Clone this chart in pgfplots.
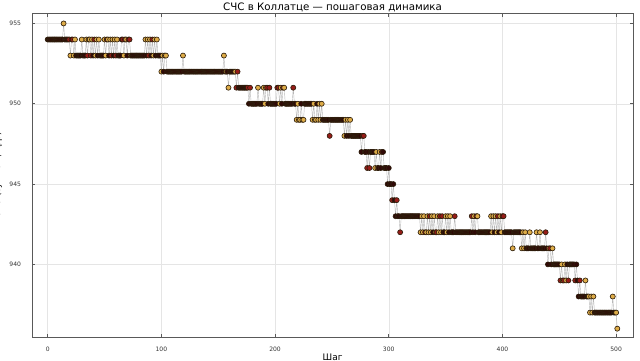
\documentclass[border=0pt]{standalone}
\usepackage{fontspec}
\setmainfont{DejaVu Sans}
\usepackage{pgfplots}
\usepackage{pgfplotstable}
\pgfplotsset{compat=1.18}
\definecolor{edgec}{RGB}{45,30,12}
\pgfplotsset{colormap={fire}{rgb255=(48,8,6) rgb255=(150,28,24) rgb255=(222,172,72)}}
\pgfplotstableread[row sep=\\]{
x y c\\
0 954 0\\ 1 954 0\\ 2 954 0\\ 3 954 0\\ 4 954 0\\ 5 954 0\\ 6 954 0\\ 7 954 0\\ 8 954 0\\ 9 954 0\\
10 954 0\\ 11 954 0\\ 12 954 0\\ 13 954 0\\ 14 955 2\\ 15 954 0\\ 16 954 0\\ 17 954 0\\ 18 954 0\\ 19 954 1\\
20 953 2\\ 21 954 1\\ 22 954 1\\ 23 953 2\\ 24 954 2\\ 25 953 0\\ 26 953 0\\ 27 953 0\\ 28 953 0\\ 29 953 0\\
30 954 2\\ 31 953 0\\ 32 953 0\\ 33 953 0\\ 34 954 2\\ 35 953 1\\ 36 954 2\\ 37 954 2\\ 38 953 1\\ 39 954 2\\
40 953 0\\ 41 954 1\\ 42 953 2\\ 43 954 2\\ 44 953 0\\ 45 954 2\\ 46 953 0\\ 47 953 0\\ 48 953 0\\ 49 953 0\\
50 954 2\\ 51 953 2\\ 52 954 1\\ 53 954 2\\ 54 953 0\\ 55 954 2\\ 56 953 1\\ 57 954 2\\ 58 953 0\\ 59 954 2\\
60 953 1\\ 61 954 2\\ 62 953 0\\ 63 953 0\\ 64 953 0\\ 65 954 1\\ 66 954 1\\ 67 953 2\\ 68 954 1\\ 69 954 2\\
70 953 0\\ 71 954 1\\ 72 954 1\\ 73 953 2\\ 74 953 0\\ 75 953 0\\ 76 953 0\\ 77 953 0\\ 78 953 0\\ 79 953 0\\
80 953 0\\ 81 953 0\\ 82 953 0\\ 83 953 0\\ 84 953 0\\ 85 953 0\\ 86 954 2\\ 87 953 0\\ 88 954 2\\ 89 953 1\\
90 954 2\\ 91 953 0\\ 92 954 1\\ 93 953 2\\ 94 954 2\\ 95 953 0\\ 96 954 2\\ 97 953 0\\ 98 953 0\\ 99 953 0\\
100 952 2\\ 101 953 2\\ 102 952 0\\ 103 953 2\\ 104 953 2\\ 105 952 0\\ 106 952 0\\ 107 952 0\\ 108 952 0\\ 109 952 0\\
110 952 0\\ 111 952 0\\ 112 952 0\\ 113 952 0\\ 114 952 0\\ 115 952 0\\ 116 952 0\\ 117 952 0\\ 118 952 0\\ 119 953 2\\
120 952 0\\ 121 952 0\\ 122 952 0\\ 123 952 0\\ 124 952 0\\ 125 952 0\\ 126 952 0\\ 127 952 0\\ 128 952 0\\ 129 952 0\\
130 952 0\\ 131 952 0\\ 132 952 0\\ 133 952 0\\ 134 952 0\\ 135 952 0\\ 136 952 0\\ 137 952 0\\ 138 952 0\\ 139 952 0\\
140 952 0\\ 141 952 0\\ 142 952 0\\ 143 952 0\\ 144 952 0\\ 145 952 0\\ 146 952 0\\ 147 952 0\\ 148 952 0\\ 149 952 0\\
150 952 0\\ 151 952 0\\ 152 952 0\\ 153 952 0\\ 154 952 0\\ 155 953 2\\ 156 952 0\\ 157 952 2\\ 158 952 0\\ 159 951 2\\
160 952 0\\ 161 952 0\\ 162 952 0\\ 163 952 0\\ 164 952 0\\ 165 952 2\\ 166 951 1\\ 167 952 1\\ 168 951 0\\ 169 951 0\\
170 951 0\\ 171 951 0\\ 172 951 0\\ 173 951 0\\ 174 951 0\\ 175 951 0\\ 176 951 1\\ 177 950 0\\ 178 951 1\\ 179 950 0\\
180 950 0\\ 181 950 0\\ 182 950 0\\ 183 950 0\\ 184 950 0\\ 185 951 2\\ 186 950 0\\ 187 950 0\\ 188 950 0\\ 189 950 0\\
190 951 2\\ 191 950 2\\ 192 951 2\\ 193 951 1\\ 194 950 0\\ 195 951 1\\ 196 950 0\\ 197 950 0\\ 198 950 0\\ 199 950 0\\
200 950 0\\ 201 950 0\\ 202 951 1\\ 203 951 1\\ 204 950 2\\ 205 951 2\\ 206 950 0\\ 207 951 1\\ 208 951 2\\ 209 950 0\\
210 950 0\\ 211 950 0\\ 212 950 0\\ 213 950 0\\ 214 950 0\\ 215 950 0\\ 216 951 1\\ 217 950 0\\ 218 950 0\\ 219 949 2\\
220 950 2\\ 221 949 2\\ 222 949 2\\ 223 950 0\\ 224 949 2\\ 225 949 2\\ 226 950 0\\ 227 950 0\\ 228 950 0\\ 229 950 0\\
230 950 0\\ 231 950 0\\ 232 950 0\\ 233 949 2\\ 234 950 2\\ 235 949 2\\ 236 949 2\\ 237 950 0\\ 238 949 2\\ 239 950 2\\
240 949 2\\ 241 950 2\\ 242 949 0\\ 243 949 0\\ 244 949 0\\ 245 949 0\\ 246 949 0\\ 247 949 0\\ 248 948 1\\ 249 949 0\\
250 949 0\\ 251 949 0\\ 252 949 0\\ 253 949 0\\ 254 949 0\\ 255 949 0\\ 256 949 0\\ 257 949 0\\ 258 949 0\\ 259 949 0\\
260 949 0\\ 261 948 2\\ 262 949 2\\ 263 948 0\\ 264 949 2\\ 265 948 0\\ 266 949 2\\ 267 948 0\\ 268 948 0\\ 269 948 0\\
270 948 0\\ 271 948 0\\ 272 948 0\\ 273 948 0\\ 274 948 0\\ 275 948 0\\ 276 947 0\\ 277 948 1\\ 278 948 1\\ 279 947 0\\
280 947 0\\ 281 946 1\\ 282 947 0\\ 283 946 1\\ 284 947 0\\ 285 947 0\\ 286 947 0\\ 287 947 0\\ 288 946 2\\ 289 947 2\\
290 946 2\\ 291 946 0\\ 292 947 2\\ 293 946 0\\ 294 947 1\\ 295 947 0\\ 296 946 0\\ 297 946 0\\ 298 946 0\\ 299 945 0\\
300 946 0\\ 301 945 0\\ 302 945 0\\ 303 944 1\\ 304 945 0\\ 305 944 0\\ 306 943 0\\ 307 944 1\\ 308 943 0\\ 309 943 0\\
310 942 1\\ 311 943 0\\ 312 943 0\\ 313 943 0\\ 314 943 0\\ 315 943 0\\ 316 943 0\\ 317 943 0\\ 318 943 0\\ 319 943 0\\
320 943 0\\ 321 943 0\\ 322 943 0\\ 323 943 0\\ 324 943 0\\ 325 943 0\\ 326 943 0\\ 327 943 0\\ 328 942 2\\ 329 943 2\\
330 942 2\\ 331 943 2\\ 332 942 1\\ 333 942 2\\ 334 943 2\\ 335 942 2\\ 336 943 1\\ 337 942 2\\ 338 943 2\\ 339 942 0\\
340 943 2\\ 341 942 2\\ 342 942 1\\ 343 943 2\\ 344 942 2\\ 345 943 1\\ 346 942 2\\ 347 943 1\\ 348 942 0\\ 349 942 0\\
350 943 2\\ 351 942 2\\ 352 943 2\\ 353 942 0\\ 354 943 2\\ 355 942 0\\ 356 942 0\\ 357 942 0\\ 358 943 1\\ 359 942 0\\
360 942 0\\ 361 942 0\\ 362 942 0\\ 363 942 0\\ 364 942 0\\ 365 942 0\\ 366 942 0\\ 367 942 0\\ 368 942 0\\ 369 942 0\\
370 942 0\\ 371 942 0\\ 372 942 0\\ 373 943 1\\ 374 942 0\\ 375 943 2\\ 376 942 0\\ 377 943 1\\ 378 943 2\\ 379 942 0\\
380 942 0\\ 381 942 0\\ 382 942 0\\ 383 942 0\\ 384 942 0\\ 385 942 0\\ 386 942 0\\ 387 942 0\\ 388 942 0\\ 389 942 0\\
390 943 2\\ 391 942 2\\ 392 943 2\\ 393 942 0\\ 394 943 2\\ 395 942 2\\ 396 943 1\\ 397 942 0\\ 398 943 2\\ 399 942 2\\
400 943 1\\ 401 943 1\\ 402 942 0\\ 403 942 0\\ 404 942 0\\ 405 942 0\\ 406 942 0\\ 407 942 0\\ 408 942 0\\ 409 941 2\\
410 942 0\\ 411 942 0\\ 412 942 0\\ 413 942 0\\ 414 942 0\\ 415 942 0\\ 416 942 0\\ 417 941 2\\ 418 942 2\\ 419 941 2\\
420 942 2\\ 421 941 0\\ 422 941 0\\ 423 941 0\\ 424 942 2\\ 425 941 0\\ 426 941 0\\ 427 941 0\\ 428 941 0\\ 429 941 0\\
430 942 2\\ 431 941 0\\ 432 941 0\\ 433 942 2\\ 434 941 0\\ 435 941 0\\ 436 941 0\\ 437 941 0\\ 438 942 1\\ 439 941 0\\
440 940 0\\ 441 941 2\\ 442 941 1\\ 443 940 0\\ 444 941 2\\ 445 940 0\\ 446 940 0\\ 447 940 0\\ 448 940 0\\ 449 940 0\\
450 940 0\\ 451 939 1\\ 452 940 2\\ 453 939 2\\ 454 939 1\\ 455 940 2\\ 456 939 2\\ 457 940 0\\ 458 939 1\\ 459 940 0\\
460 940 0\\ 461 940 0\\ 462 940 0\\ 463 940 0\\ 464 939 1\\ 465 940 0\\ 466 939 0\\ 467 938 0\\ 468 939 1\\ 469 938 0\\
470 938 0\\ 471 938 0\\ 472 938 0\\ 473 939 2\\ 474 938 0\\ 475 938 0\\ 476 938 2\\ 477 937 2\\ 478 938 2\\ 479 937 2\\
480 938 2\\ 481 937 0\\ 482 937 0\\ 483 937 0\\ 484 937 0\\ 485 937 0\\ 486 937 0\\ 487 937 0\\ 488 937 0\\ 489 937 0\\
490 937 0\\ 491 937 0\\ 492 937 0\\ 493 937 0\\ 494 937 0\\ 495 937 0\\ 496 937 0\\ 497 938 2\\ 498 937 0\\ 499 937 0\\
500 937 2\\ 501 936 2\\
}\data
\begin{document}
\begin{tikzpicture}
\path[use as bounding box] (0,0) rectangle (16cm,9cm);
\clip (0,0) rectangle (16cm,9cm);
\begin{axis}[
  at={(0.8cm,0.575cm)}, anchor=south west,
  scale only axis, width=15.03cm, height=8.08cm,
  xmin=-13.8, xmax=515, ymin=935.48, ymax=955.6,
  xtick={0,100,200,300,400,500}, ytick={940,945,950,955},
  grid=major, grid style={black!10, line width=0.3pt},
  axis line style={black!65, line width=0.6pt},
  tick style={black!65, line width=0.4pt},
  major tick length=0.07cm, tick align=inside,
  /pgf/number format/assume math mode=true,
  ticklabel style={font=\fontsize{4.3}{5}\selectfont, text=black!80},
  xticklabel style={yshift=-0.12cm},
  yticklabel style={xshift=-0.15cm},
  every axis title shift=0pt,
  title={СЧС в Коллатце — пошаговая динамика},
  title style={font=\fontsize{7.3}{9}\selectfont, at={(axis description cs:0.5,1)}, anchor=south, inner sep=1.2pt},
  xlabel={Шаг},
  xlabel style={font=\fontsize{6.4}{7}\selectfont, at={(axis description cs:0.5,0)}, anchor=north, yshift=-0.42cm, inner sep=0pt},
  ylabel={СЧС (сумма цифр)},
  ylabel style={font=\fontsize{6.4}{7}\selectfont, at={(axis description cs:-0.057,0.5)}, anchor=center},
  point meta min=0, point meta max=2,
  clip=true,
]
\addplot[draw=black!28, line width=0.3pt, no marks] table[x=x, y=y] {\data};
\addplot[scatter, only marks, mark=*, mark size=1.8pt, scatter src=explicit,
  mark options={line width=0.45pt},
  scatter/use mapped color={draw=edgec, fill=mapped color}]
  table[x=x, y=y, meta=c] {\data};
\end{axis}
\end{tikzpicture}
\end{document}
